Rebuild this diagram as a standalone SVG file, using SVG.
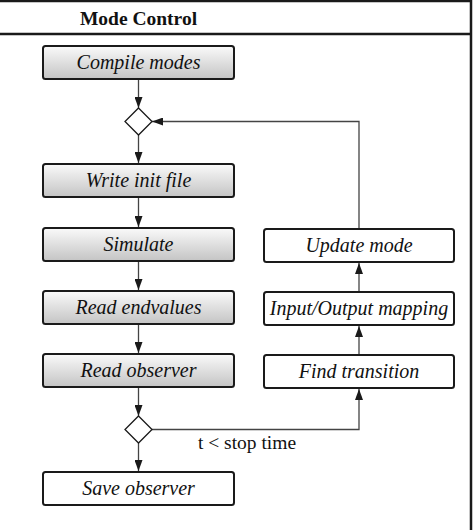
<svg xmlns="http://www.w3.org/2000/svg" width="474" height="530" viewBox="0 0 474 530">
<style>
.box{stroke:#1a1a1a;stroke-width:2;}
.g{fill:url(#grad);}
.w{fill:#fff;}
text{font-family:"Liberation Serif","Times New Roman",Times,serif;fill:#111;}
.t{font-style:italic;font-size:20px;text-anchor:middle;}
.c{fill:none;stroke:#444;stroke-width:1.3;}
.d{fill:#fff;stroke:#1a1a1a;stroke-width:1.3;}
</style>
<defs>
<linearGradient id="grad" x1="0" y1="0" x2="0" y2="1">
<stop offset="0" stop-color="#fafafa"/>
<stop offset="1" stop-color="#c4c4c4"/>
</linearGradient>
<marker id="ar" viewBox="0 0 11 8" refX="11" refY="4" markerWidth="11" markerHeight="8" markerUnits="userSpaceOnUse" orient="auto">
<path d="M0,0 L11,4 L0,8 Z" fill="#1a1a1a"/>
</marker>
</defs>
<rect width="474" height="530" fill="#fff"/>
<g id="frame">
<line x1="0" y1="1" x2="472" y2="1" stroke="#1a1a1a" stroke-width="2.5"/>
<line x1="0" y1="34" x2="472" y2="34" stroke="#1a1a1a" stroke-width="2.5"/>
<line x1="471" y1="0" x2="471" y2="530" stroke="#1a1a1a" stroke-width="2.5"/>
<text x="138.5" y="25" font-weight="bold" font-size="19.5" text-anchor="middle">Mode Control</text>
</g>
<g id="connectors">
<line class="c" x1="138.5" y1="80" x2="138.5" y2="108" marker-end="url(#ar)"/>
<line class="c" x1="138.5" y1="135" x2="138.5" y2="163" marker-end="url(#ar)"/>
<line class="c" x1="138.5" y1="198" x2="138.5" y2="227" marker-end="url(#ar)"/>
<line class="c" x1="138.5" y1="262" x2="138.5" y2="290" marker-end="url(#ar)"/>
<line class="c" x1="138.5" y1="325" x2="138.5" y2="353" marker-end="url(#ar)"/>
<line class="c" x1="138.5" y1="388" x2="138.5" y2="416" marker-end="url(#ar)"/>
<line class="c" x1="138.5" y1="443" x2="138.5" y2="471" marker-end="url(#ar)"/>
<polyline class="c" points="152,429.5 359,429.5 359,389" marker-end="url(#ar)"/>
<line class="c" x1="359" y1="354" x2="359" y2="326" marker-end="url(#ar)"/>
<line class="c" x1="359" y1="291" x2="359" y2="263" marker-end="url(#ar)"/>
<polyline class="c" points="359,228 359,121.5 152,121.5" marker-end="url(#ar)"/>
<text x="247" y="449" font-size="19.5" text-anchor="middle">t &lt; stop time</text>
</g>
<g id="compile"><rect class="box g" x="43" y="46" width="191" height="33" rx="2.5"/><text class="t" x="138.5" y="69">Compile modes</text></g>
<g id="merge"><polygon class="d" points="138.5,108 152,121.5 138.5,135 125,121.5"/></g>
<g id="writeinit"><rect class="box g" x="43" y="164" width="191" height="33" rx="2.5"/><text class="t" x="138.5" y="187">Write init file</text></g>
<g id="simulate"><rect class="box g" x="43" y="228" width="191" height="33" rx="2.5"/><text class="t" x="138.5" y="251">Simulate</text></g>
<g id="readend"><rect class="box g" x="43" y="291" width="191" height="33" rx="2.5"/><text class="t" x="138.5" y="314">Read endvalues</text></g>
<g id="readobs"><rect class="box g" x="43" y="354" width="191" height="33" rx="2.5"/><text class="t" x="138.5" y="377">Read observer</text></g>
<g id="decision"><polygon class="d" points="138.5,416 152,429.5 138.5,443 125,429.5"/></g>
<g id="saveobs"><rect class="box w" x="43" y="472" width="191" height="33" rx="2.5"/><text class="t" x="138.5" y="495">Save observer</text></g>
<g id="update"><rect class="box w" x="264" y="229" width="190" height="33" rx="2.5"/><text class="t" x="359" y="252">Update mode</text></g>
<g id="iomap"><rect class="box w" x="264" y="292" width="190" height="33" rx="2.5"/><text class="t" x="359" y="315">Input/Output mapping</text></g>
<g id="findtrans"><rect class="box w" x="264" y="355" width="190" height="33" rx="2.5"/><text class="t" x="359" y="378">Find transition</text></g>
</svg>
